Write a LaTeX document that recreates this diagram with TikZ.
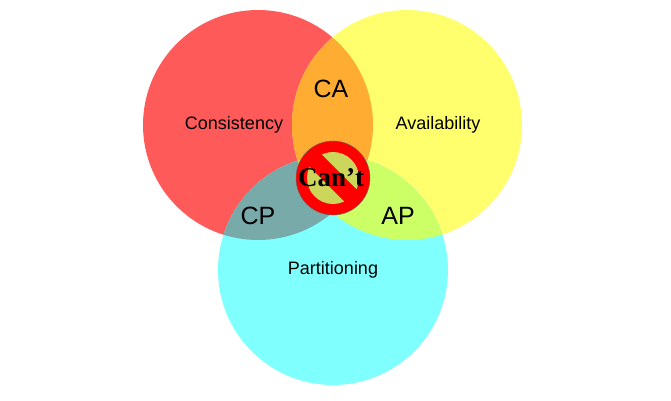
\documentclass[tikz,border=0pt]{standalone}
\usepackage{fontspec}
\setmainfont{Liberation Sans}
\newfontfamily\signfont{Liberation Serif}
\definecolor{cRed}{RGB}{255,90,90}
\definecolor{cYel}{RGB}{255,255,110}
\definecolor{cCya}{RGB}{128,255,255}
\definecolor{cCA}{RGB}{255,172,50}
\definecolor{cCP}{RGB}{120,170,170}
\definecolor{cAP}{RGB}{204,255,102}
\definecolor{cMid}{RGB}{204,214,90}
\tikzset{every picture/.style={line width=0.75pt},
  lbl/.style={font=\fontsize{18}{21}\selectfont},
  big/.style={font=\fontsize{25}{29}\selectfont}}
\begin{document}
\begin{tikzpicture}[x=1pt,y=1pt,yscale=-1]
\useasboundingbox (0,0) rectangle (671,400);
\def\rc{(258,125) circle (115)}
\def\yc{(407,125) circle (115)}
\def\cc{(333,270) circle (115)}
% circles
\fill[cRed] \rc;
\fill[cYel] \yc;
\fill[cCya] \cc;
% pairwise overlaps
\begin{scope}\clip \rc; \fill[cCA] \yc; \fill[cCP] \cc; \end{scope}
\begin{scope}\clip \yc; \fill[cAP] \cc; \end{scope}
\begin{scope}\clip \rc; \clip \yc; \fill[cMid] \cc; \end{scope}
% no sign
\fill[red] (333,178) circle (37);
\fill[cMid] (333,178) circle (26);
\draw[red, line width=17pt] (312,157) -- (354,199);
\draw[black!60, line width=0.4pt] (333,178) circle (37);
\node[font=\signfont\bfseries\fontsize{27}{29}\selectfont] (cant) at (331,178) {Can’t};
% labels
\node[lbl] (cons) at (234,125) {Consistency};
\node[lbl] (avai) at (438,125) {Availability};
\node[lbl] (part) at (333,270) {Partitioning};
\node[big] (ca) at (331,89) {CA};
\node[big] (cp) at (258,216) {CP};
\node[big] (ap) at (398,216) {AP};
\end{tikzpicture}
\end{document}
